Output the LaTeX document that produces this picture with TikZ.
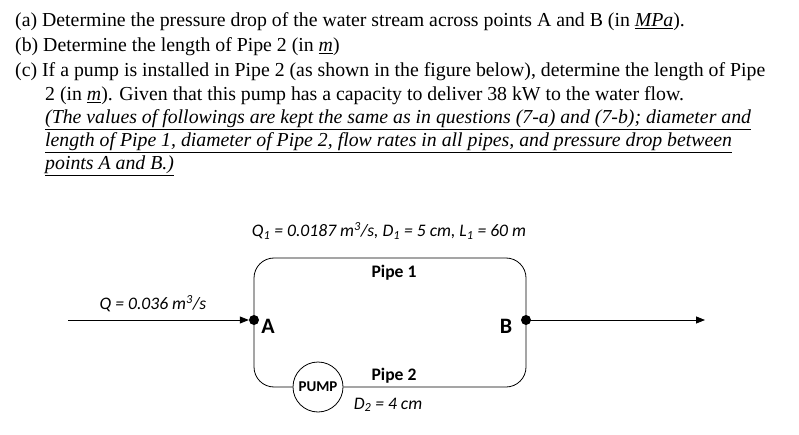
\documentclass[tikz,border=0pt]{standalone}
\usepackage{fontspec}
\setmainfont{Liberation Serif}
\newfontfamily\carlitofont{Carlito}
\usetikzlibrary{arrows.meta}
\begin{document}
\begin{tikzpicture}[x=1pt,y=-1pt,
  q/.style={anchor=base west,inner sep=0,font=\fontsize{19.8}{19.8}\selectfont},
  lbl/.style={inner sep=0,font=\carlitofont\fontsize{17.6}{17.6}\selectfont},
  pipe/.style={line width=0.8pt},
  dot/.style={circle,fill=black,inner sep=0,minimum size=10pt}]
\useasboundingbox (0,0) rectangle (799,435);
\node[q] (la) at (15,27) {(a) Determine the pressure drop of the water stream across points A and B (in \underline{\textit{MPa}}).};
\node[q] (lb) at (15,52) {(b) Determine the length of Pipe 2 (in \underline{\textit{m}})};
\node[q] (lc) at (15,77) {(c) If a pump is installed in Pipe 2 (as shown in the figure below), determine the length of Pipe};
\node[q] (ld) at (45,101) {2 (in \underline{\textit{m}}). Given that this pump has a capacity to deliver 38 kW to the water flow.};
\node[q] (le) at (45,124) {\underline{\textit{(The values of followings are kept the same as in questions (7-a) and (7-b); diameter and}}};
\node[q] (lf) at (45,147) {\underline{\textit{length of Pipe 1, diameter of Pipe 2, flow rates in all pipes, and pressure drop between}}};
\node[q] (lg) at (45,170) {\underline{\textit{points A and B.)}}};

\node[dot] (A) at (254,320) {};
\node[dot] (B) at (526,320) {};
\coordinate (in) at (68,320);
\coordinate (out) at (705,320);
\node[circle,draw,pipe,fill=white,minimum size=50pt,inner sep=0] (P) at (318,387) {};
\draw[pipe,rounded corners=20pt] (A.center) -- (254,258) -- (526,258) -- (B.center) -- (526,387) -- (P.east);
\draw[pipe,rounded corners=20pt] (A.center) -- (254,387) -- (P.west);
\draw[pipe,-{Triangle[length=9pt,width=7pt]}] (in) -- (A.west);
\draw[pipe,-{Triangle[length=9pt,width=7pt]}] (B.center) -- (out);
\node[lbl,font=\carlitofont\bfseries\fontsize{15}{15}\selectfont] (pl) at (P) {PUMP};
\node[lbl,font=\carlitofont\bfseries\fontsize{22}{22}\selectfont] (Al) at (268,326) {A};
\node[lbl,font=\carlitofont\bfseries\fontsize{22}{22}\selectfont] (Bl) at (506,326) {B};
\node[lbl,font=\carlitofont\bfseries\fontsize{17.6}{17.6}\selectfont] (p1) at (394,273) {Pipe 1};
\node[lbl,font=\carlitofont\bfseries\fontsize{17.6}{17.6}\selectfont] (p2) at (394,376) {Pipe 2};
\node[lbl] (t1) at (389,231) {\itshape Q\textsubscript{1} = 0.0187 m\textsuperscript{3}/s, D\textsubscript{1} = 5 cm, L\textsubscript{1} = 60 m};
\node[lbl] (t2) at (153,304) {\itshape Q = 0.036 m\textsuperscript{3}/s};
\node[lbl] (t3) at (388,405) {\itshape D\textsubscript{2} = 4 cm};
\end{tikzpicture}
\end{document}
